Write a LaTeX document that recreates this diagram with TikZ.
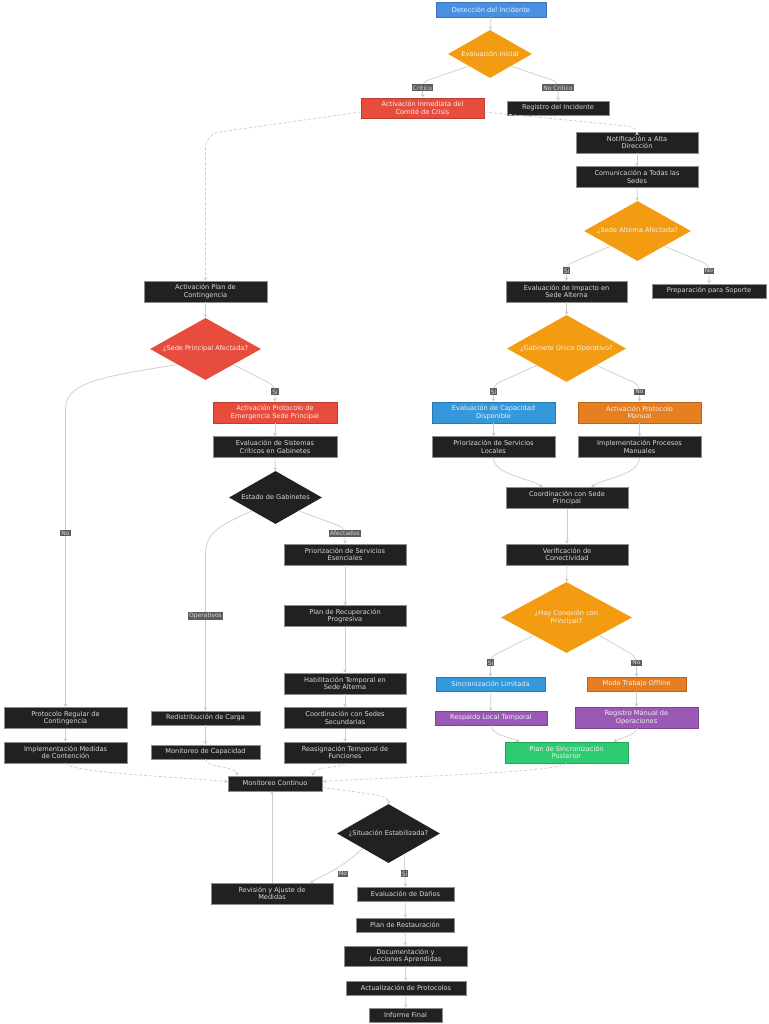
\documentclass[tikz,border=0pt]{standalone}
\usepackage{fontspec}
\setmainfont{DejaVu Sans}
\usetikzlibrary{shapes.geometric,arrows.meta,calc}
\definecolor{cblue}{HTML}{4A90E2}
\definecolor{corange}{HTML}{F39C12}
\definecolor{cred}{HTML}{E74C3C}
\definecolor{cdark}{HTML}{212121}
\definecolor{cblue2}{HTML}{3498DB}
\definecolor{corange2}{HTML}{E67E22}
\definecolor{cpurple}{HTML}{9B59B6}
\definecolor{cgreen}{HTML}{2ECC71}
\definecolor{cedge}{HTML}{CCCCCC}
\definecolor{clbl}{HTML}{5C5C5C}
\begin{document}
\begin{tikzpicture}[x=1pt,y=1pt,
  base/.style={inner sep=0pt, align=center, font=\fontsize{6.6}{7.6}\selectfont, text=white!95!black, line width=0.5pt},
  sz/.style 2 args={minimum width=#1pt, minimum height=#2pt},
  dark/.style={base, rectangle, fill=cdark, draw=black!45, text=white!85!black},
  blue/.style={base, rectangle, fill=cblue, draw=cblue!80!black},
  red/.style={base, rectangle, fill=cred, draw=cred!80!black},
  bluetwo/.style={base, rectangle, fill=cblue2, draw=cblue2!80!black},
  orangetwo/.style={base, rectangle, fill=corange2, draw=corange2!80!black},
  purple/.style={base, rectangle, fill=cpurple, draw=cpurple!80!black},
  green/.style={base, rectangle, fill=cgreen, draw=cgreen!80!black},
  dia/.style={base, diamond, aspect=1.8},
  odia/.style={dia, fill=corange},
  rdia/.style={dia, fill=cred},
  ddia/.style={dia, fill=cdark, text=white!85!black},
  edge/.style={draw=cedge, line width=0.7pt, -{Stealth[length=3.5pt,width=3.5pt]}},
  dedge/.style={edge, dash pattern=on 3pt off 2pt},
  lbl/.style={rectangle, fill=clbl, text=white!85!black, font=\fontsize{6}{6.5}\selectfont, inner xsep=1pt, inner ysep=1pt}
]
\useasboundingbox (0,0) rectangle (768,-1024);
\fill[white] (0,0) rectangle (768,-1024);

% ---------- nodes ----------
\node[blue, sz={110}{15}] (det) at (491,-9.5) {Detección del Incidente};
\node[odia, sz={84}{48}] (ini) at (490,-54) {Evaluación Inicial};
\node[red, sz={123}{20}] (com) at (422.5,-108) {Activación Inmediata del\\Comité de Crisis};
\node[dark, sz={102}{14}] (reg) at (558,-108) {Registro del Incidente};
\node[dark, sz={122}{21}] (noti) at (637,-142.5) {Notificación a Alta\\Dirección};
\node[dark, sz={122}{21}] (comu) at (637,-177) {Comunicación a Todas las\\Sedes};
\node[odia, sz={107}{60}] (salt) at (637.5,-231) {¿Sede Alterna Afectada?};
\node[dark, sz={121}{21}] (eimp) at (566.5,-291.5) {Evaluación de Impacto en\\Sede Alterna};
\node[dark, sz={114}{14}] (prep) at (709,-291) {Preparación para Soporte};

\node[dark, sz={123}{21}] (pcont) at (205.5,-291.5) {Activación Plan de\\Contingencia};
\node[rdia, sz={111}{62}] (sprin) at (205.5,-349) {¿Sede Principal Afectada?};
\node[red, sz={124}{21}] (pemer) at (275,-412.5) {Activación Protocolo de\\Emergencia Sede Principal};
\node[dark, sz={124}{21}] (esis) at (275,-447) {Evaluación de Sistemas\\Críticos en Gabinetes};
\node[ddia, sz={93}{53}] (egab) at (275.5,-497.5) {Estado de Gabinetes};
\node[dark, sz={122}{21}] (pese) at (345,-554.5) {Priorización de Servicios\\Esenciales};
\node[dark, sz={122}{21}] (prec) at (345,-616) {Plan de Recuperación\\Progresiva};
\node[dark, sz={122}{21}] (habi) at (345,-683.5) {Habilitación Temporal en\\Sede Alterna};
\node[dark, sz={122}{21}] (csec) at (345,-718) {Coordinación con Sedes\\Secundarias};
\node[dark, sz={122}{21}] (reas) at (345,-752.5) {Reasignación Temporal de\\Funciones};
\node[dark, sz={123}{21}] (preg) at (65.5,-718) {Protocolo Regular de\\Contingencia};
\node[dark, sz={123}{21}] (imed) at (65.5,-752.5) {Implementación Medidas\\de Contención};
\node[dark, sz={109}{14}] (redi) at (205.5,-718) {Redistribución de Carga};
\node[dark, sz={109}{14}] (mcap) at (205.5,-752) {Monitoreo de Capacidad};
\node[dark, sz={94}{15}] (mcon) at (275,-783.5) {Monitoreo Continuo};

\node[odia, sz={119}{67}] (guni) at (566.5,-348.5) {¿Gabinete Único Operativo?};
\node[bluetwo, sz={123}{21}] (ecap) at (493.5,-412.5) {Evaluación de Capacidad\\Disponible};
\node[orangetwo, sz={123}{21}] (pman) at (639.5,-412.5) {Activación Protocolo\\Manual};
\node[dark, sz={123}{21}] (ploc) at (493.5,-447) {Priorización de Servicios\\Locales};
\node[dark, sz={123}{21}] (ipro) at (639.5,-447) {Implementación Procesos\\Manuales};
\node[dark, sz={122}{21}] (cpri) at (567,-498) {Coordinación con Sede\\Principal};
\node[dark, sz={122}{21}] (vcon) at (567,-554.5) {Verificación de\\Conectividad};
\node[odia, sz={131}{71}] (hcon) at (566.5,-617.5) {¿Hay Conexión con\\Principal?};
\node[bluetwo, sz={109}{14}] (slim) at (490.5,-684) {Sincronización Limitada};
\node[orangetwo, sz={99}{14}] (moff) at (636.5,-684) {Modo Trabajo Offline};
\node[purple, sz={112}{14}] (rloc) at (491,-718) {Respaldo Local Temporal};
\node[purple, sz={123}{21}] (rman) at (636.5,-717.5) {Registro Manual de\\Operaciones};
\node[green, sz={123}{21}] (psin) at (566.5,-752.5) {Plan de Sincronización\\Posterior};

\node[ddia, sz={103}{59}] (sest) at (388.5,-833.5) {¿Situación Estabilizada?};
\node[dark, sz={122}{21}] (rev) at (272,-893.5) {Revisión y Ajuste de\\Medidas};
\node[dark, sz={97}{14}] (edan) at (405.5,-894) {Evaluación de Daños};
\node[dark, sz={98}{14}] (pres) at (405,-925) {Plan de Restauración};
\node[dark, sz={123}{20}] (docu) at (405.5,-956) {Documentación y\\Lecciones Aprendidas};
\node[dark, sz={120}{14}] (actu) at (406,-988) {Actualización de Protocolos};
\node[dark, sz={73}{14}] (inf) at (405.5,-1015) {Informe Final};

% ---------- edges ----------
\draw[edge] (det) -- (ini);
\draw[edge, rounded corners=6pt] (ini.south west) -- (422.5,-82) -- (com.north);
\draw[edge, rounded corners=6pt] (ini.south east) -- (558,-82) -- (reg.north);
\draw[dedge, rounded corners=14pt] ($(com.west)+(0,-4)$) -- (205.5,-134) -- (pcont.north);
\draw[dedge, rounded corners=8pt] ($(com.east)+(0,-4)$) -- (637,-127) -- (noti.north);
\draw[edge] (noti) -- (comu);
\draw[edge] (comu) -- (salt);
\draw[edge, rounded corners=6pt] (salt.south west) -- (566.5,-265) -- (eimp.north);
\draw[edge, rounded corners=6pt] (salt.south east) -- (709,-265) -- (prep.north);
\draw[edge] (eimp) -- (guni);
\draw[edge, rounded corners=6pt] (guni.south west) -- (493.5,-385) -- (ecap.north);
\draw[edge, rounded corners=6pt] (guni.south east) -- (639.5,-385) -- (pman.north);
\draw[edge] (ecap) -- (ploc);
\draw[edge] (pman) -- (ipro);
\draw[edge] (ploc.south) .. controls (493.5,-475) and (530,-478) .. ($(cpri.north)+(-24,0)$);
\draw[edge] (ipro.south) .. controls (639.5,-475) and (604,-478) .. ($(cpri.north)+(24,0)$);
\draw[edge] (cpri) -- (vcon);
\draw[edge] (vcon) -- (hcon);
\draw[edge, rounded corners=6pt] (hcon.south west) -- (490.5,-657) -- (slim.north);
\draw[edge, rounded corners=6pt] (hcon.south east) -- (636.5,-657) -- (moff.north);
\draw[edge] (slim) -- (rloc);
\draw[edge] (moff) -- (rman);
\draw[edge] (rloc.south) .. controls (491,-735) and (510,-737) .. ($(psin.north)+(-47,0)$);
\draw[edge] (rman.south) .. controls (636.5,-735) and (623,-737) .. ($(psin.north)+(47,0)$);
\draw[dedge] (psin.south) .. controls (560,-772) and (420,-776) .. ($(mcon.east)+(0,2)$);

\draw[edge] (pcont) -- (sprin);
\draw[edge, rounded corners=6pt] (sprin.south east) -- (275,-386) -- (pemer.north);
\draw[edge] (sprin.south west) .. controls (90,-378) and (65.5,-385) .. (65.5,-410) -- (preg.north);
\draw[edge] (pemer) -- (esis);
\draw[edge] (esis) -- (egab);
\draw[edge, rounded corners=6pt] (egab.south east) -- (345,-528) -- (pese.north);
\draw[edge] (egab.south west) .. controls (215,-527) and (205.5,-535) .. (205.5,-555) -- (redi.north);
\draw[edge] (pese) -- (prec);
\draw[edge] (prec) -- (habi);
\draw[edge] (habi) -- (csec);
\draw[edge] (csec) -- (reas);
\draw[edge] (preg) -- (imed);
\draw[edge] (redi) -- (mcap);
\draw[dedge] (imed.south) .. controls (70,-772) and (160,-776) .. ($(mcon.west)+(0,2)$);
\draw[dedge] (mcap.south) .. controls (205.5,-768) and (237,-766) .. ($(mcon.north)+(-38,0)$);
\draw[dedge] (reas.south) .. controls (345,-768) and (313,-766) .. ($(mcon.north)+(38,0)$);
\draw[dedge] ($(mcon.east)+(0,-4)$) .. controls (370,-794) and (388.5,-795) .. (sest.north);
\draw[edge] (sest.south west) .. controls (345,-866) and (322,-876) .. ($(rev.north)+(38,0)$);
\draw[edge] ($(sest.south)!0.3!(sest.east)$) -- (edan.north);
\draw[edge] (rev.north) -- (rev.north |- mcon.south);
\draw[edge] (edan) -- (pres);
\draw[edge] (pres) -- (docu);
\draw[edge] (docu) -- (actu);
\draw[edge] (actu) -- (inf);

% ---------- edge labels ----------
\node[lbl] (lcrit) at ($(com.north)+(0,10)$) {Crítico};
\node[lbl] (lnocrit) at ($(reg.north)+(0,13)$) {No Crítico};
\node[lbl] (lsa) at ($(eimp.north)+(0,10)$) {Sí};
\node[lbl] (lsb) at ($(prep.north)+(0,13)$) {No};
\node[lbl] (lgs) at ($(ecap.north)+(0,10)$) {Sí};
\node[lbl] (lgn) at ($(pman.north)+(0,10)$) {No};
\node[lbl] (lhs) at ($(slim.north)+(0,14)$) {Sí};
\node[lbl] (lhn) at ($(moff.north)+(0,14)$) {No};
\node[lbl] (lps) at ($(pemer.north)+(0,10)$) {Sí};
\node[lbl] (lafe) at ($(pese.north)+(0,10)$) {Afectados};
\node[lbl] (lpn) at ($(preg.north)+(0,174)$) {No};
\node[lbl] (lope) at ($(redi.north)+(0,95)$) {Operativos};
\node[lbl] (lsn) at ($(rev.north)+(71,9)$) {No};
\node[lbl] (lss) at ($(edan.north)+(-1,13)$) {Sí};
\end{tikzpicture}
\end{document}
